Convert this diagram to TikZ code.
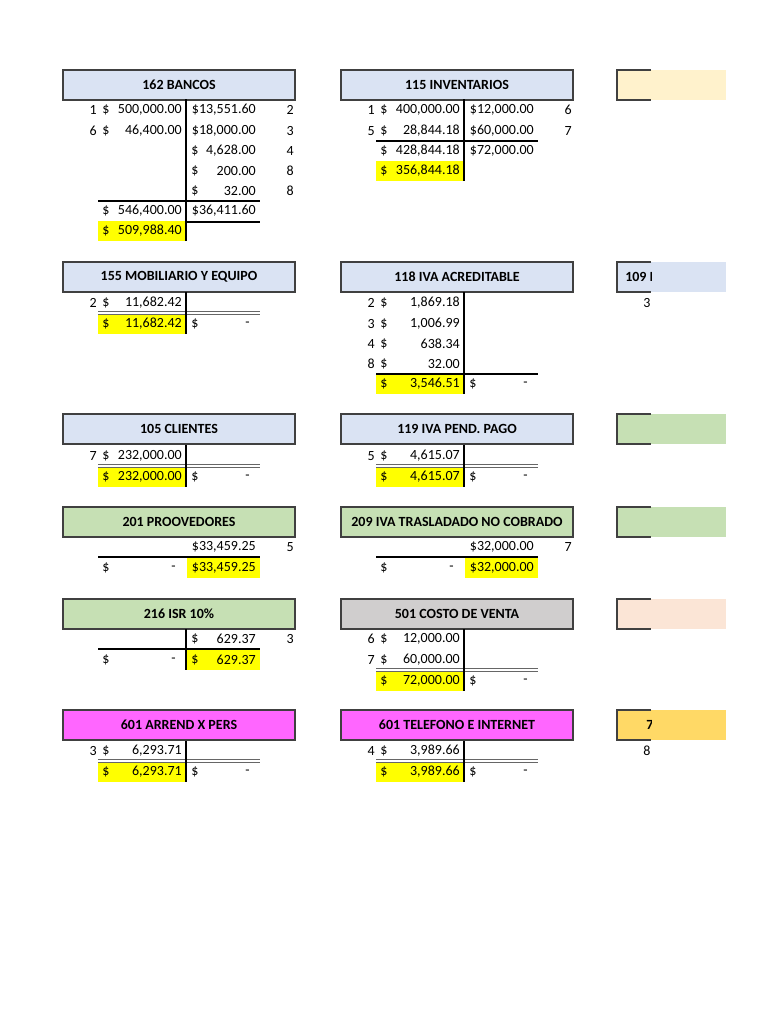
\documentclass[tikz,border=0pt]{standalone}
\usepackage{fontspec}
\setmainfont{Carlito}
\definecolor{hblue}{HTML}{DAE3F3}
\definecolor{hgreen}{HTML}{C6E0B4}
\definecolor{hgray}{HTML}{D0CECE}
\definecolor{hmag}{HTML}{FF66FF}
\definecolor{hcream}{HTML}{FFF2CC}
\definecolor{hpeach}{HTML}{FBE5D6}
\definecolor{horange}{HTML}{FFD966}
\definecolor{yel}{HTML}{FFFF00}
\definecolor{bord}{HTML}{404040}
\tikzset{
 txt/.style={inner sep=0pt,font=\fontsize{10.5pt}{12pt}\selectfont,text=black},
 htxt/.style={txt,font=\fontsize{10.5pt}{12pt}\selectfont\bfseries},
 hbox/.style={draw=bord,line width=1.1pt},
 rule/.style={black,line width=1pt},
 vrule/.style={black,line width=0.9pt},
 dbl/.style={gray!80!black,line width=0.8pt}
}
\newcommand\Hd[4]{\draw[hbox,fill=#3] ({#1+63},#2) rectangle ({#1+295},{#2+30}); \node[htxt] at ({#1+179},{#2+15}) {#4};}
\newcommand\Lent[4]{\node[txt,anchor=east] at ({#1+97},#2) {#3}; \node[txt,anchor=west] at ({#1+102},#2) {\$}; \node[txt,anchor=east] at ({#1+182},#2) {#4};}
\newcommand\Ldash[2]{\node[txt,anchor=west] at ({#1+102},#2) {\$}; \node[txt,anchor=east] at ({#1+176},#2) {-};}
\newcommand\Rdash[2]{\node[txt,anchor=west] at ({#1+191},#2) {\$}; \node[txt,anchor=east] at ({#1+250},#2) {-};}
\newcommand\Rsep[4]{\node[txt,anchor=west] at ({#1+191},#2) {\$}; \node[txt,anchor=east] at ({#1+256},#2) {#3}; \node[txt,anchor=east] at ({#1+294},#2) {#4};}
\newcommand\Rjoin[4]{\node[txt,anchor=east] at ({#1+256},#2) {\$#3}; \node[txt,anchor=east] at ({#1+294},#2) {#4};}
\newcommand\Yl[2]{\fill[yel] ({#1+98},{#2-10}) rectangle ({#1+185},{#2+10});}
\newcommand\Yr[2]{\fill[yel] ({#1+187},{#2-10}) rectangle ({#1+260},{#2+10});}
\newcommand\Sline[2]{\draw[rule] ({#1+98},#2) -- ({#1+260},#2);}
\newcommand\Dline[2]{\draw[dbl] ({#1+98},{#2-1.3}) -- ({#1+260},{#2-1.3}); \draw[dbl] ({#1+98},{#2+1.3}) -- ({#1+260},{#2+1.3});}
\newcommand\Vl[3]{\draw[vrule] ({#1+186},#2) -- ({#1+186},#3);}
\newcommand\Part[3]{\fill[#2] (617,#1) rectangle (726,{#1+30}); \draw[hbox] (651,#1) -- (617,#1) -- (617,{#1+30}) -- (651,{#1+30}); #3}
\begin{document}
\begin{tikzpicture}[x=0.75pt,y=-0.75pt]
\useasboundingbox[fill=white] (0,0) rectangle (768,1024);
% ---------- column 1 ----------
\Hd{0}{70}{hblue}{162 BANCOS}
\Yl{0}{231}
\Lent{0}{110}{1}{500,000.00}\Rjoin{0}{110}{13,551.60}{2}
\Lent{0}{131}{6}{46,400.00}\Rjoin{0}{131}{18,000.00}{3}
\Rsep{0}{151}{4,628.00}{4}
\Rsep{0}{171}{200.00}{8}
\Rsep{0}{191}{32.00}{8}
\Sline{0}{201}
\Lent{0}{211}{}{546,400.00}\Rjoin{0}{211}{36,411.60}{}
\draw[vrule] (186,222) -- (260,222);
\Lent{0}{231}{}{509,988.40}
\Vl{0}{99}{241}

\Hd{0}{262}{hblue}{155 MOBILIARIO Y EQUIPO}
\Yl{0}{324}
\Lent{0}{303}{2}{11,682.42}
\Dline{0}{313}
\Lent{0}{324}{}{11,682.42}\Rdash{0}{324}
\Vl{0}{292}{334}

\Hd{0}{414}{hblue}{105 CLIENTES}
\Yl{0}{477}
\Lent{0}{456}{7}{232,000.00}
\Dline{0}{466}
\Lent{0}{477}{}{232,000.00}\Rdash{0}{477}
\Vl{0}{445}{487}

\Hd{0}{507}{hgreen}{201 PROOVEDORES}
\Yr{0}{568}
\Rjoin{0}{547}{33,459.25}{5}
\Sline{0}{557}
\Ldash{0}{568}\Rjoin{0}{568}{33,459.25}{}

\Hd{0}{599}{hgreen}{216 ISR 10\%}
\Yr{0}{660}
\Rsep{0}{639}{629.37}{3}
\Sline{0}{649}
\Ldash{0}{660}\Rsep{0}{660}{629.37}{}
\Vl{0}{629}{670}

\Hd{0}{710}{hmag}{601 ARREND X PERS}
\Yl{0}{772}
\Lent{0}{751}{3}{6,293.71}
\Dline{0}{761}
\Lent{0}{772}{}{6,293.71}\Rdash{0}{772}
\Vl{0}{741}{782}
% ---------- column 2 ----------
\Hd{278}{70}{hblue}{115 INVENTARIOS}
\Yl{278}{171}
\Lent{278}{110}{1}{400,000.00}\Rjoin{278}{110}{12,000.00}{6}
\Lent{278}{131}{5}{28,844.18}\Rjoin{278}{131}{60,000.00}{7}
\Sline{278}{141}
\Lent{278}{151}{}{428,844.18}\Rjoin{278}{151}{72,000.00}{}
\Lent{278}{171}{}{356,844.18}
\Vl{278}{99}{181}

\Hd{278}{262}{hblue}{118 IVA ACREDITABLE}
\Yl{278}{384}
\Lent{278}{303}{2}{1,869.18}
\Lent{278}{324}{3}{1,006.99}
\Lent{278}{344}{4}{638.34}
\Lent{278}{364}{8}{32.00}
\Sline{278}{374}
\Lent{278}{384}{}{3,546.51}\Rdash{278}{384}
\Vl{278}{292}{394}

\Hd{278}{414}{hblue}{119 IVA PEND. PAGO}
\Yl{278}{477}
\Lent{278}{456}{5}{4,615.07}
\Dline{278}{466}
\Lent{278}{477}{}{4,615.07}\Rdash{278}{477}
\Vl{278}{445}{487}

\Hd{278}{507}{hgreen}{209 IVA TRASLADADO NO COBRADO}
\Yr{278}{568}
\Rjoin{278}{547}{32,000.00}{7}
\Sline{278}{557}
\Ldash{278}{568}\Rjoin{278}{568}{32,000.00}{}

\Hd{278}{599}{hgray}{501 COSTO DE VENTA}
\Yl{278}{681}
\Lent{278}{639}{6}{12,000.00}
\Lent{278}{660}{7}{60,000.00}
\Dline{278}{670}
\Lent{278}{681}{}{72,000.00}\Rdash{278}{681}
\Vl{278}{629}{691}

\Hd{278}{710}{hmag}{601 TELEFONO E INTERNET}
\Yl{278}{772}
\Lent{278}{751}{4}{3,989.66}
\Dline{278}{761}
\Lent{278}{772}{}{3,989.66}\Rdash{278}{772}
\Vl{278}{741}{782}
% ---------- column 3 (cut off) ----------
\Part{70}{hcream}{}
\Part{262}{hblue}{\begin{scope}\clip (617,262) rectangle (651,292); \node[htxt,anchor=west] at (625,277) {109 IVA};\end{scope}}
\node[txt] at (647,303) {3};
\Part{414}{hgreen}{}
\Part{507}{hgreen}{}
\Part{599}{hpeach}{}
\Part{710}{horange}{\begin{scope}\clip (617,710) rectangle (651,741); \node[htxt,anchor=west] at (646,725) {7};\end{scope}}
\node[txt] at (647,751) {8};
\end{tikzpicture}
\end{document}
